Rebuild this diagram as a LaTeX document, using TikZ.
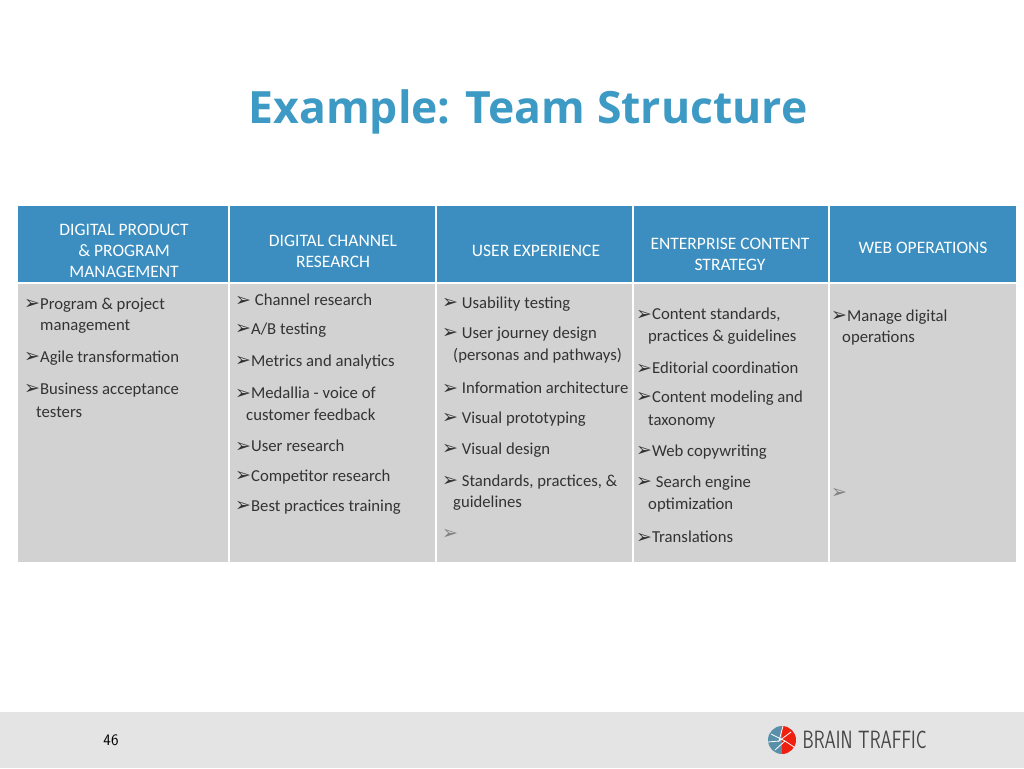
\documentclass[tikz,border=0pt]{standalone}
\usepackage{fontspec}
\setmainfont{Carlito}
\newfontfamily\titlefont{Open Sans}
\newfontfamily\symfont{DejaVu Sans}
\definecolor{hdr}{HTML}{3B8EBF}
\definecolor{bodyg}{HTML}{D2D2D2}
\definecolor{ttl}{HTML}{3D9AC4}
\definecolor{foot}{HTML}{E4E4E4}
\definecolor{txt}{HTML}{333333}
\begin{document}
\begin{tikzpicture}[x=1pt,y=-1pt,
  hd/.style={text=white,font=\fontsize{17.5}{21}\selectfont,align=center},
  it/.style={anchor=west,text=txt,font=\fontsize{16.7}{19}\selectfont,inner sep=0pt}]
\useasboundingbox (0,0) rectangle (1024,768);
\fill[white] (0,0) rectangle (1024,768);
\node[text=ttl,font=\titlefont\bfseries\fontsize{44.5}{52}\selectfont] (title) at (528,112) {Example: Team Structure};
% table
\fill[bodyg] (18,283) rectangle (1016,562);
\fill[hdr] (18,206) rectangle (1016,283);
\foreach \x in {229,436,633,829} \draw[white,line width=2pt] (\x,206) -- (\x,562);
\draw[white,line width=1.5pt] (18,283) -- (1016,283);
\node[hd] (h1) at (124,251) {DIGITAL PRODUCT\\\& PROGRAM\\MANAGEMENT};
\node[hd] (h2) at (333,251) {DIGITAL CHANNEL\\RESEARCH};
\node[hd] (h3) at (536,251) {USER EXPERIENCE};
\node[hd] (h4) at (730,254) {ENTERPRISE CONTENT\\STRATEGY};
\node[hd] (h5) at (923,248) {WEB OPERATIONS};
\newcommand\bl{{\symfont\fontsize{19}{19}\selectfont\raisebox{-0.5pt}{➢}}}
% col1
\node[it] (a1) at (24,305) {\bl Program \& project};
\node[it] (a1b) at (40,327) {management};
\node[it] (a2) at (24,358) {\bl Agile transformation};
\node[it] (a3) at (24,390) {\bl Business acceptance};
\node[it] (a3b) at (36,412) {testers};
% col2
\node[it] (b1) at (235,300) {\bl\ Channel research};
\node[it] (b2) at (235,330) {\bl A/B testing};
\node[it] (b3) at (235,362) {\bl Metrics and analytics};
\node[it] (b4) at (235,393) {\bl Medallia - voice of};
\node[it] (b4b) at (246,415) {customer feedback};
\node[it] (b5) at (235,446) {\bl User research};
\node[it] (b6) at (235,477) {\bl Competitor research};
\node[it] (b7) at (235,507) {\bl Best practices training};
% col3
\node[it] (c1) at (442,304) {\bl\ Usability testing};
\node[it] (c2) at (442,334) {\bl\ User journey design};
\node[it] (c2b) at (453,356) {(personas and pathways)};
\node[it] (c3) at (442,388) {\bl\ Information architecture};
\node[it] (c4) at (442,419) {\bl\ Visual prototyping};
\node[it] (c5) at (442,450) {\bl\ Visual design};
\node[it] (c6) at (442,482) {\bl\ Standards, practices, \&};
\node[it] (c6b) at (453,503) {guidelines};
\node[it,text=gray] (c7) at (442,534) {\bl};
% col4
\node[it] (d1) at (636,315) {\bl Content standards,};
\node[it] (d1b) at (648,337) {practices \& guidelines};
\node[it] (d2) at (636,368) {\bl Editorial coordination};
\node[it] (d3) at (636,398) {\bl Content modeling and};
\node[it] (d3b) at (648,422) {taxonomy};
\node[it] (d4) at (636,452) {\bl Web copywriting};
\node[it] (d5) at (636,483) {\bl\ Search engine};
\node[it] (d5b) at (648,505) {optimization};
\node[it] (d6) at (636,537) {\bl Translations};
% col5
\node[it] (e1) at (831,317) {\bl Manage digital};
\node[it] (e1b) at (842,338) {operations};
\node[it,text=gray] (e2) at (831,493) {\bl};
% footer
\fill[foot] (0,712) rectangle (1024,768);
\node[font=\fontsize{16}{19}\selectfont\sffamily,text=black] (pg) at (111,740) {46};
\begin{scope}[shift={(782,740)}]
\begin{scope}
\clip (0,0) circle (14);
\fill[ttl!60!gray] (-14,-14) rectangle (0,14);
\fill[red!75!brown] (0,-14) rectangle (14,14);
\end{scope}
\draw[white,line width=0.8pt] (-11,-6) -- (3,1) -- (-7,10) (1,-14)--(-3,1)--(9,-8) (3,1)--(12,7) (-14,2)--(-3,1);
\end{scope}
\node[anchor=west,font=\sffamily\fontsize{25}{27}\selectfont,text=black!72,xscale=0.72] (logo) at (800,740) {BRAIN TRAFFIC};
\end{tikzpicture}
\end{document}
